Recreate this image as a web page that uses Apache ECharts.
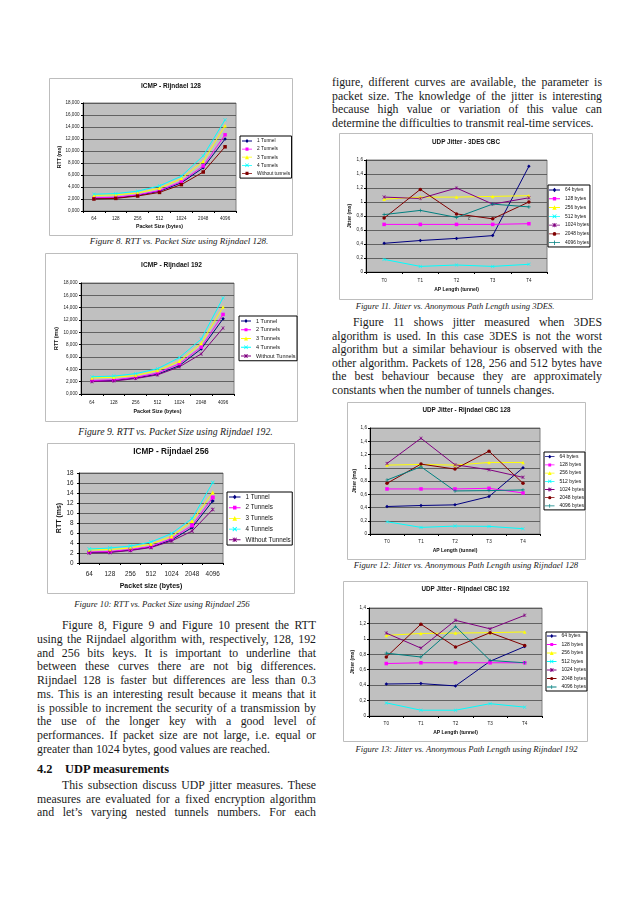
<!DOCTYPE html>
<html>
<head>
<meta charset="utf-8">
<script src="https://cdn.jsdelivr.net/npm/echarts@6/dist/echarts.min.js"></script>
<style>
html,body{margin:0;padding:0;background:#fff;}
#page{position:relative;width:638px;height:903px;overflow:hidden;background:#fff;}
.chart{position:absolute;}
.ln{position:absolute;font-family:'Liberation Serif','Times New Roman',serif;font-size:11.8px;line-height:14px;color:#1a1a1a;white-space:normal;}
.j{text-align:justify;text-align-last:justify;}
.cap{position:absolute;font-family:'Liberation Serif','Times New Roman',serif;font-style:italic;line-height:11px;color:#222;white-space:nowrap;transform:translateX(-50%);}
.hd{position:absolute;font-family:'Liberation Serif','Times New Roman',serif;font-weight:bold;font-size:12.4px;line-height:15px;color:#111;white-space:nowrap;}
</style>
</head>
<body>
<div id="page">
  <div id="c1" class="chart"></div>
  <div id="c2" class="chart"></div>
  <div id="c3" class="chart"></div>
  <div id="c4" class="chart"></div>
  <div id="c5" class="chart"></div>
  <div id="c6" class="chart"></div>
</div>
<script>
// ---------- DATA ----------
const packetSizes = ['64', '128', '256', '512', '1024', '2048', '4096'];
const apLengths = ['T0', 'T1', 'T2', 'T3', 'T4'];

// Figure 8: ICMP - Rijndael 128 (RTT, ms)
const r128Tunnel1 = [2.1, 2.2, 2.6, 3.3, 4.7, 7.2, 12.0];
const r128Tunnel2 = [2.2, 2.3, 2.7, 3.4, 4.9, 7.5, 12.7];
const r128Tunnel3 = [2.6, 2.7, 3.0, 3.8, 5.4, 8.3, 14.2];
const r128Tunnel4 = [2.8, 2.9, 3.3, 4.2, 5.8, 9.2, 15.2];
const r128NoTunnel = [2.0, 2.1, 2.5, 3.1, 4.4, 6.5, 10.7];

// Figure 9: ICMP - Rijndael 192
const r192Tunnel1 = [2.1, 2.2, 2.6, 3.2, 4.6, 7.3, 12.2];
const r192Tunnel2 = [2.2, 2.3, 2.7, 3.4, 4.9, 7.6, 12.9];
const r192Tunnel3 = [2.6, 2.7, 3.0, 3.8, 5.3, 8.2, 14.1];
const r192Tunnel4 = [2.8, 2.9, 3.3, 4.1, 5.9, 8.9, 15.6];
const r192NoTunnel = [2.0, 2.1, 2.5, 3.1, 4.4, 6.5, 10.7];

// Figure 10: ICMP - Rijndael 256
const r256Tunnel1 = [2.1, 2.2, 2.6, 3.2, 4.6, 7.1, 12.4];
const r256Tunnel2 = [2.2, 2.3, 2.7, 3.3, 4.9, 7.5, 13.1];
const r256Tunnel3 = [2.6, 2.7, 3.0, 3.8, 5.3, 8.4, 14.1];
const r256Tunnel4 = [2.8, 3.0, 3.4, 4.2, 5.9, 8.9, 16.1];
const r256NoTunnel = [2.0, 2.1, 2.5, 3.1, 4.4, 6.4, 10.7];

// Figure 11: UDP Jitter - 3DES CBC (ms)
const des64 = [0.41, 0.45, 0.48, 0.52, 1.51];
const des128 = [0.68, 0.68, 0.68, 0.68, 0.69];
const des256 = [1.04, 1.07, 1.07, 1.08, 1.09];
const des512 = [0.18, 0.08, 0.10, 0.08, 0.11];
const des1024 = [1.07, 1.05, 1.20, 0.97, 1.06];
const des2048 = [0.77, 1.18, 0.83, 0.76, 1.00];
const des4096 = [0.82, 0.88, 0.78, 0.97, 0.93];

// Figure 12: UDP Jitter - Rijndael CBC 128
const cbc128b64 = [0.415, 0.43, 0.44, 0.565, 1.0];
const cbc128b128 = [0.68, 0.68, 0.68, 0.69, 0.62];
const cbc128b256 = [1.04, 1.05, 1.04, 1.08, 1.08];
const cbc128b512 = [0.185, 0.10, 0.12, 0.115, 0.08];
const cbc128b1024 = [1.065, 1.445, 1.045, 0.97, 0.855];
const cbc128b2048 = [0.765, 1.055, 0.98, 1.25, 0.765];
const cbc128b4096 = [0.815, 1.015, 0.65, 0.655, 0.665];

// Figure 13: UDP Jitter - Rijndael CBC 192
const cbc192b64 = [0.415, 0.42, 0.39, 0.71, 0.90];
const cbc192b128 = [0.68, 0.69, 0.69, 0.69, 0.69];
const cbc192b256 = [1.045, 1.07, 1.075, 1.08, 1.09];
const cbc192b512 = [0.17, 0.075, 0.075, 0.16, 0.115];
const cbc192b1024 = [1.075, 0.88, 1.24, 1.13, 1.305];
const cbc192b2048 = [0.765, 1.19, 0.895, 1.08, 0.915];
const cbc192b4096 = [0.815, 0.765, 1.16, 0.72, 0.69];

const tunnelNames = ['1 Tunnel', '2 Tunnels', '3 Tunnels', '4 Tunnels'];
const byteNames = ['64 bytes', '128 bytes', '256 bytes', '512 bytes', '1024 bytes', '2048 bytes', '4096 bytes'];

// ---------- STYLE ----------
const SANS = "'Liberation Sans', Arial, sans-serif";
const SYM = {
  diamond: 'diamond', square: 'rect', triangle: 'triangle', circle: 'circle',
  cross: 'path://M1,0L5,4L9,0L10,1L6,5L10,9L9,10L5,6L1,10L0,9L4,5L0,1Z',
  plus: 'path://M4,0H6V4H10V6H6V10H4V6H0V4H4Z',
  star: 'path://M1,0L5,4L9,0L10,1L6,5L10,9L9,10L5,6L1,10L0,9L4,5L0,1Z M4.4,0H5.6V10H4.4Z'
};
// legend icons: thin line with the marker in the middle (20 x 8 box)
const LINE = 'M0,3.2H20V4.8H0Z ';
const LEG = {};
LEG[SYM.diamond] = 'path://' + LINE + 'M10,0L13.5,4L10,8L6.5,4Z';
LEG[SYM.square] = 'path://' + LINE + 'M7,0.8H13V7.2H7Z';
LEG[SYM.triangle] = 'path://' + LINE + 'M10,0L14,8L6,8Z';
LEG[SYM.circle] = 'path://' + LINE + 'M10,0.6A3.4,3.4 0 1,1 10,7.4A3.4,3.4 0 1,1 10,0.6Z';
LEG[SYM.cross] = 'path://' + LINE + 'M7,0L10,3L13,0L14,1L11,4L14,7L13,8L10,5L7,8L6,7L9,4L6,1Z';
LEG[SYM.plus] = 'path://' + LINE + 'M9.3,0H10.7V3.3H14V4.7H10.7V8H9.3V4.7H6V3.3H9.3Z';
LEG[SYM.star] = 'path://' + LINE + 'M7,0L10,3L13,0L14,1L11,4L14,7L13,8L10,5L7,8L6,7L9,4L6,1Z M9.4,0H10.6V8H9.4Z';

const XL = [
  {c: '#000080', s: SYM.diamond},
  {c: '#ff00ff', s: SYM.square},
  {c: '#ffff00', s: SYM.triangle},
  {c: '#00ffff', s: SYM.cross},
  {c: '#800080', s: SYM.star},
  {c: '#800000', s: SYM.circle},
  {c: '#008080', s: SYM.plus}
];

const fmtMs3 = v => v.toFixed(3).replace('.', ',');
const fmtInt = v => String(Math.round(v));
const fmtComma1 = v => String(Math.round(v * 10) / 10).replace('.', ',');

function makeChart(id, spec) {
  const el = document.getElementById(id);
  const b = spec.box;
  el.style.left = b.x + 'px'; el.style.top = b.y + 'px';
  el.style.width = b.w + 'px'; el.style.height = b.h + 'px';
  const chart = echarts.init(el, null, {renderer: 'canvas', width: b.w, height: b.h});
  const lg = spec.legend;
  const series = spec.series.map(s => ({
    type: 'line', name: s.name, data: s.data,
    symbol: s.style.s, symbolSize: spec.symSize,
    lineStyle: {color: s.style.c, width: 1},
    itemStyle: {color: s.style.c, borderWidth: 0},
    emphasis: {disabled: true},
    animation: false
  }));
  const graphics = [{
    type: 'rect', z: -10, silent: true,
    shape: {x: 0.5, y: 0.5, width: b.w - 1, height: b.h - 1},
    style: {fill: '#fff', stroke: '#bdbdbd', lineWidth: 1}
  }].concat(spec.extra || []);
  chart.setOption({
    animation: false,
    backgroundColor: 'transparent',
    title: {
      text: spec.title, left: 'center', top: spec.titleY - spec.titleSize * 0.6, padding: 0,
      textStyle: {fontFamily: SANS, fontSize: spec.titleSize, fontWeight: 'bold', color: '#111'}
    },
    graphic: {elements: graphics},
    legend: {
      orient: 'vertical', left: lg.left, top: lg.top,
      padding: lg.pad, itemGap: lg.gap, itemWidth: lg.itemW, itemHeight: lg.itemW * 0.4,
      backgroundColor: '#fff', borderColor: '#000', borderWidth: 1, borderRadius: 0,
      selectedMode: false, symbolKeepAspect: true,
      itemStyle: {borderWidth: 0},
      textStyle: {fontFamily: SANS, fontSize: lg.font, lineHeight: lg.lh, color: '#111', padding: 0},
      data: spec.series.map(s => ({name: s.name, icon: LEG[s.style.s], itemStyle: {color: s.style.c, borderWidth: 0}}))
    },
    grid: {
      left: spec.grid.left, top: spec.grid.top, width: spec.grid.width, height: spec.grid.height,
      containLabel: false, outerBoundsMode: 'none',
      show: true, backgroundColor: '#c0c0c0', borderColor: '#808080', borderWidth: 1
    },
    xAxis: {
      type: 'category', data: spec.categories, boundaryGap: true,
      name: spec.xName, nameLocation: 'middle', nameGap: spec.xNameGap, nameMoveOverlap: false,
      nameTextStyle: {fontFamily: SANS, fontSize: spec.nameSize, fontWeight: 'bold', color: '#111'},
      axisLine: {show: true, lineStyle: {color: '#000', width: 1}},
      axisTick: {show: true, alignWithLabel: false, length: 2, lineStyle: {color: '#000'}},
      axisLabel: {fontFamily: SANS, fontSize: spec.tickSize, color: '#222', margin: spec.xLabelMargin, interval: 0},
      splitLine: {show: false}
    },
    yAxis: {
      type: 'value', min: 0, max: spec.yMax, interval: spec.yInterval,
      name: spec.yName, nameLocation: 'middle', nameRotate: 90, nameGap: spec.yNameGap, nameMoveOverlap: false,
      nameTextStyle: {fontFamily: SANS, fontSize: spec.nameSize, fontWeight: 'bold', color: '#111'},
      axisLine: {show: true, lineStyle: {color: '#000', width: 1}},
      axisTick: {show: true, length: 2, lineStyle: {color: '#000'}},
      axisLabel: {fontFamily: SANS, fontSize: spec.tickSize, color: '#222', margin: spec.yLabelMargin, formatter: spec.yFmt},
      splitLine: {show: true, lineStyle: {color: '#4a4a4a', width: 0.8}}
    },
    series: series
  });
}

makeChart('c1', {
  box: {x: 49, y: 78, w: 244, h: 158},
  grid: {left: 34, top: 25, width: 153, height: 108},
  title: 'ICMP - Rijndael 128', titleY: 9, titleSize: 6.5,
  categories: packetSizes, yMax: 18, yInterval: 2, yFmt: fmtMs3,
  tickSize: 4.6, nameSize: 5.2, xName: 'Packet Size (bytes)', yName: 'RTT (ms)',
  xLabelMargin: 5, yLabelMargin: 3.5, xNameGap: 13.4, yNameGap: 21, symSize: 3.5,
  legend: {left: 191, top: 58, font: 4.8, lh: 6, gap: 2.1, pad: [2, 1.5, 1.7, 2], itemW: 10},
  series: [
    {name: tunnelNames[0], data: r128Tunnel1, style: XL[0]},
    {name: tunnelNames[1], data: r128Tunnel2, style: XL[1]},
    {name: tunnelNames[2], data: r128Tunnel3, style: XL[2]},
    {name: tunnelNames[3], data: r128Tunnel4, style: XL[3]},
    {name: 'Without tunnels', data: r128NoTunnel, style: {c: '#800000', s: SYM.square}}
  ]
});

makeChart('c2', {
  box: {x: 45, y: 253, w: 253, h: 169},
  grid: {left: 36, top: 30, width: 153, height: 111},
  title: 'ICMP - Rijndael 192', titleY: 13, titleSize: 6.6,
  categories: packetSizes, yMax: 18, yInterval: 2, yFmt: fmtMs3,
  tickSize: 4.6, nameSize: 5.3, xName: 'Packet Size (bytes)', yName: 'RTT (ms)',
  xLabelMargin: 6, yLabelMargin: 3.5, xNameGap: 15.4, yNameGap: 22, symSize: 3.5,
  legend: {left: 194, top: 63, font: 5.5, lh: 6.5, gap: 2.25, pad: [1.75, 1.5, 1.5, 2], itemW: 10},
  series: [
    {name: tunnelNames[0], data: r192Tunnel1, style: XL[0]},
    {name: tunnelNames[1], data: r192Tunnel2, style: XL[1]},
    {name: tunnelNames[2], data: r192Tunnel3, style: XL[2]},
    {name: tunnelNames[3], data: r192Tunnel4, style: XL[3]},
    {name: 'Without Tunnels', data: r192NoTunnel, style: XL[4]}
  ]
});

makeChart('c3', {
  box: {x: 47, y: 443, w: 248, h: 151},
  grid: {left: 32, top: 30, width: 144, height: 90},
  title: 'ICMP - Rijndael 256', titleY: 10, titleSize: 8.2,
  categories: packetSizes, yMax: 18, yInterval: 2, yFmt: fmtInt,
  tickSize: 6.4, nameSize: 7, xName: 'Packet size (bytes)', yName: 'RTT (ms)',
  xLabelMargin: 8, yLabelMargin: 5.5, xNameGap: 19.5, yNameGap: 16.5, symSize: 4,
  legend: {left: 180, top: 49, font: 6.3, lh: 7.5, gap: 3.2, pad: [1.25, 1.5, 1.5, 2], itemW: 11.5},
  series: [
    {name: tunnelNames[0], data: r256Tunnel1, style: XL[0]},
    {name: tunnelNames[1], data: r256Tunnel2, style: XL[1]},
    {name: tunnelNames[2], data: r256Tunnel3, style: XL[2]},
    {name: tunnelNames[3], data: r256Tunnel4, style: XL[3]},
    {name: 'Without Tunnels', data: r256NoTunnel, style: XL[4]}
  ]
});

function jitterSeries(arrs) {
  return arrs.map((d, i) => ({name: byteNames[i], data: d, style: XL[i]}));
}

makeChart('c4', {
  box: {x: 339, y: 133, w: 254, h: 167},
  grid: {left: 27, top: 27, width: 181, height: 112},
  title: 'UDP Jitter - 3DES CBC', titleY: 10, titleSize: 6.3,
  categories: apLengths, yMax: 1.6, yInterval: 0.2, yFmt: fmtComma1,
  tickSize: 4.6, nameSize: 5, xName: 'AP Length (tunnel)', yName: 'Jitter (ms)',
  xLabelMargin: 6.5, yLabelMargin: 3, xNameGap: 15.5, yNameGap: 13.5, symSize: 3.5,
  legend: {left: 209, top: 52, font: 4.9, lh: 6, gap: 2.78, pad: [2, 1, 1.3, 1], itemW: 11},
  extra: [{type: 'text', left: 129, top: 83, silent: true, style: {text: 'c', fontSize: 5, fontFamily: SANS, fill: '#333'}}],
  series: jitterSeries([des64, des128, des256, des512, des1024, des2048, des4096])
});

makeChart('c5', {
  box: {x: 347, y: 402, w: 239, h: 158},
  grid: {left: 23, top: 26, width: 170, height: 106},
  title: 'UDP Jitter - Rijndael CBC 128', titleY: 9, titleSize: 6.3,
  categories: apLengths, yMax: 1.6, yInterval: 0.2, yFmt: fmtComma1,
  tickSize: 4.6, nameSize: 5, xName: 'AP Length (tunnel)', yName: 'Jitter (ms)',
  xLabelMargin: 5.5, yLabelMargin: 3, xNameGap: 14.5, yNameGap: 12.5, symSize: 3.5,
  legend: {left: 197, top: 50, font: 5, lh: 6, gap: 2.2, pad: [1.7, 1, 1, 1], itemW: 9.5},
  series: jitterSeries([cbc128b64, cbc128b128, cbc128b256, cbc128b512, cbc128b1024, cbc128b2048, cbc128b4096])
});

makeChart('c6', {
  box: {x: 343, y: 581, w: 245, h: 161},
  grid: {left: 26, top: 27, width: 173, height: 108},
  title: 'UDP Jitter - Rijndael CBC 192', titleY: 9, titleSize: 6.3,
  categories: apLengths, yMax: 1.4, yInterval: 0.2, yFmt: fmtComma1,
  tickSize: 4.6, nameSize: 5, xName: 'AP Length (tunnel)', yName: 'Jitter (ms)',
  xLabelMargin: 5.5, yLabelMargin: 3, xNameGap: 14.5, yNameGap: 13.8, symSize: 3.5,
  legend: {left: 203, top: 51, font: 5, lh: 6, gap: 2.5, pad: [1, 1, 1, 1], itemW: 9.5},
  series: jitterSeries([cbc192b64, cbc192b128, cbc192b256, cbc192b512, cbc192b1024, cbc192b2048, cbc192b4096])
});

// ---------- TEXT ----------
const page = document.getElementById('page');
const textBlocks = [
  {left: 332, width: 270, indent: 0, y0: 83, pitch: 13.67, lines: [
    'figure, different curves are available, the parameter is',
    'packet size. The knowledge of the jitter is interesting',
    'because high value or variation of this value can',
    'determine the difficulties to transmit real-time services.']},
  {left: 332, width: 270, indent: 21, y0: 323, pitch: 13.6, lines: [
    'Figure 11 shows jitter measured when 3DES',
    'algorithm is used. In this case 3DES is not the worst',
    'algorithm but a similar behaviour is observed with the',
    'other algorithm. Packets of 128, 256 and 512 bytes have',
    'the best behaviour because they are approximately',
    'constants when the number of tunnels changes.']},
  {left: 37, width: 279, indent: 25, y0: 626, pitch: 13.78, lines: [
    'Figure 8, Figure 9 and Figure 10 present the RTT',
    'using the Rijndael algorithm with, respectively, 128, 192',
    'and 256 bits keys. It is important to underline that',
    'between these curves there are not big differences.',
    'Rijndael 128 is faster but differences are less than 0.3',
    'ms. This is an interesting result because it means that it',
    'is possible to increment the security of a transmission by',
    'the use of the longer key with a good level of',
    'performances. If packet size are not large, i.e. equal or',
    'greater than 1024 bytes, good values are reached.']},
  {left: 37, width: 279, indent: 25, y0: 786, pitch: 13.5, lastJust: true, lines: [
    'This subsection discuss UDP jitter measures. These',
    'measures are evaluated for a fixed encryption algorithm',
    'and let\u2019s varying nested tunnels numbers. For each']}
];
textBlocks.forEach(blk => {
  blk.lines.forEach((t, i) => {
    const d = document.createElement('div');
    const last = i === blk.lines.length - 1;
    d.className = 'ln' + ((!last || blk.lastJust) ? ' j' : '');
    const ind = i === 0 ? blk.indent : 0;
    d.style.left = (blk.left + ind) + 'px';
    d.style.width = (blk.width - ind) + 'px';
    d.style.top = (blk.y0 + i * blk.pitch - 8) + 'px';
    d.textContent = t;
    page.appendChild(d);
  });
});

const heading = [{t: '4.2', x: 37}, {t: 'UDP measurements', x: 65}];
heading.forEach(h => {
  const d = document.createElement('div');
  d.className = 'hd';
  d.style.left = h.x + 'px';
  d.style.top = (771 - 9) + 'px';
  d.textContent = h.t;
  page.appendChild(d);
});

const captions = [
  {t: 'Figure 8. RTT vs. Packet Size using Rijndael 128.', x: 179, y: 242, s: 9.0},
  {t: 'Figure 9. RTT vs. Packet Size using Rijndael 192.', x: 175.5, y: 432, s: 9.8},
  {t: 'Figure 10: RTT vs. Packet Size using Rijndael 256', x: 162, y: 605, s: 8.7},
  {t: 'Figure 11. Jitter vs. Anonymous Path Length using 3DES.', x: 455, y: 307, s: 8.6},
  {t: 'Figure 12: Jitter vs. Anonymous Path Length using Rijndael 128', x: 466, y: 566, s: 8.7},
  {t: 'Figure 13: Jitter vs. Anonymous Path Length using Rijndael 192', x: 466.5, y: 750, s: 8.6}
];
captions.forEach(c => {
  const d = document.createElement('div');
  d.className = 'cap';
  d.style.left = c.x + 'px';
  d.style.top = (c.y - 6) + 'px';
  d.style.fontSize = c.s + 'px';
  d.textContent = c.t;
  page.appendChild(d);
});
</script>
</body>
</html>
